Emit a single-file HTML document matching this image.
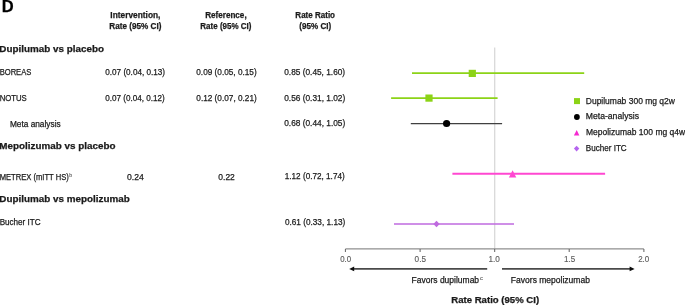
<!DOCTYPE html>
<html><head><meta charset="utf-8">
<style>
html,body{margin:0;padding:0;background:#fff;}
body{width:685px;height:305px;overflow:hidden;}
svg{display:block;}
text{font-family:"Liberation Sans",Arial,sans-serif;stroke-width:0.25px;}
</style></head>
<body>
<svg width="685" height="305" viewBox="0 0 685 305">
  <!-- reference line at 1.0 -->
  <line x1="494.7" y1="47.5" x2="494.7" y2="249" stroke="#d9d9d9" stroke-width="1.3"/>
  <!-- axis -->
  <line x1="345.4" y1="248.8" x2="643.9" y2="248.8" stroke="#8f8f8f" stroke-width="1.3"/>
  <g stroke="#606060" stroke-width="1">
    <line x1="345.4" y1="249" x2="345.4" y2="252"/>
    <line x1="420.1" y1="249" x2="420.1" y2="252"/>
    <line x1="494.7" y1="249" x2="494.7" y2="252"/>
    <line x1="569.2" y1="249" x2="569.2" y2="252"/>
    <line x1="643.9" y1="249" x2="643.9" y2="252"/>
  </g>
  <!-- BOREAS -->
  <line x1="412.0" y1="73.2" x2="584.2" y2="73.2" stroke="#8cd317" stroke-width="1.8"/>
  <rect x="468.7" y="69.8" width="7.2" height="7.2" fill="#8cd317"/>
  <!-- NOTUS -->
  <line x1="391.1" y1="98.1" x2="497.6" y2="98.1" stroke="#8cd317" stroke-width="1.8"/>
  <rect x="425.4" y="94.5" width="7.2" height="7.2" fill="#8cd317"/>
  <!-- Meta -->
  <line x1="410.8" y1="123.6" x2="502.1" y2="123.6" stroke="#404040" stroke-width="1.3"/>
  <circle cx="446.6" cy="123.5" r="3.6" fill="#000"/>
  <!-- METREX -->
  <line x1="452.4" y1="173.8" x2="605.1" y2="173.8" stroke="#ff47d1" stroke-width="1.9"/>
  <polygon points="512.6,170.2 516.3,177.5 508.9,177.5" fill="#ff47d1"/>
  <!-- Bucher -->
  <line x1="394.0" y1="224" x2="514.0" y2="224" stroke="#bf6adf" stroke-width="1.7"/>
  <polygon points="436.5,220.8 439.7,224 436.5,227.2 433.3,224" fill="#bf6adf"/>
  <!-- legend markers -->
  <rect x="574" y="98.1" width="6" height="6" fill="#8cd317"/>
  <circle cx="576.9" cy="117" r="2.9" fill="#000"/>
  <polygon points="576.7,130.1 579.4,135.6 573.9,135.6" fill="#f52ad0"/>
  <polygon points="576.6,145.8 579.3,148.6 576.6,151.4 573.9,148.6" fill="#b565ef"/>
  <!-- favors arrows -->
  <line x1="353" y1="268.9" x2="487.2" y2="268.9" stroke="#4a4a4a" stroke-width="1.9"/>
  <polygon points="349.2,268.9 354.2,266.6 354.2,271.2" fill="#0d0d0d"/>
  <line x1="502" y1="268.9" x2="630.5" y2="268.9" stroke="#4a4a4a" stroke-width="1.9"/>
  <polygon points="634.6,268.9 629.6,266.6 629.6,271.2" fill="#0d0d0d"/>

  <text x="1.68" y="12.00" style="font-size:17.00px;font-weight:bold;fill:#000;stroke:#000" textLength="11.92" lengthAdjust="spacingAndGlyphs">D</text>
  <text x="110.34" y="18.10" style="font-size:8.70px;font-weight:bold;fill:#1a1a1a;stroke:#1a1a1a" textLength="50.10" lengthAdjust="spacingAndGlyphs">Intervention,</text>
  <text x="109.34" y="28.90" style="font-size:8.70px;font-weight:bold;fill:#1a1a1a;stroke:#1a1a1a" textLength="52.04" lengthAdjust="spacingAndGlyphs">Rate (95% CI)</text>
  <text x="205.13" y="18.10" style="font-size:8.70px;font-weight:bold;fill:#1a1a1a;stroke:#1a1a1a" textLength="41.53" lengthAdjust="spacingAndGlyphs">Reference,</text>
  <text x="200.35" y="28.90" style="font-size:8.70px;font-weight:bold;fill:#1a1a1a;stroke:#1a1a1a" textLength="51.08" lengthAdjust="spacingAndGlyphs">Rate (95% CI)</text>
  <text x="295.37" y="18.10" style="font-size:8.70px;font-weight:bold;fill:#1a1a1a;stroke:#1a1a1a" textLength="39.66" lengthAdjust="spacingAndGlyphs">Rate Ratio</text>
  <text x="299.34" y="28.90" style="font-size:8.70px;font-weight:bold;fill:#1a1a1a;stroke:#1a1a1a" textLength="31.88" lengthAdjust="spacingAndGlyphs">(95% CI)</text>
  <text x="-0.65" y="51.60" style="font-size:9.20px;font-weight:bold;fill:#1a1a1a;stroke:#1a1a1a" textLength="104.57" lengthAdjust="spacingAndGlyphs">Dupilumab vs placebo</text>
  <text x="-0.65" y="148.90" style="font-size:9.20px;font-weight:bold;fill:#1a1a1a;stroke:#1a1a1a" textLength="116.10" lengthAdjust="spacingAndGlyphs">Mepolizumab vs placebo</text>
  <text x="-0.65" y="201.70" style="font-size:9.20px;font-weight:bold;fill:#1a1a1a;stroke:#1a1a1a" textLength="130.33" lengthAdjust="spacingAndGlyphs">Dupilumab vs mepolizumab</text>
  <text x="-0.36" y="74.80" style="font-size:9.00px;font-weight:normal;fill:#1a1a1a;stroke:#1a1a1a" textLength="31.70" lengthAdjust="spacingAndGlyphs">BOREAS</text>
  <text x="-0.36" y="100.60" style="font-size:9.00px;font-weight:normal;fill:#1a1a1a;stroke:#1a1a1a" textLength="27.16" lengthAdjust="spacingAndGlyphs">NOTUS</text>
  <text x="9.89" y="126.80" style="font-size:9.00px;font-weight:normal;fill:#1a1a1a;stroke:#1a1a1a" textLength="50.76" lengthAdjust="spacingAndGlyphs">Meta analysis</text>
  <text x="-0.33" y="179.70" style="font-size:9.00px;font-weight:normal;fill:#1a1a1a;stroke:#1a1a1a" textLength="69.07" lengthAdjust="spacingAndGlyphs">METREX (mITT HS)</text>
  <text x="69.20" y="177.20" style="font-size:5.30px;fill:#2a2a2a;stroke:none">b</text>
  <text x="-0.36" y="225.00" style="font-size:9.00px;font-weight:normal;fill:#1a1a1a;stroke:#1a1a1a" textLength="40.99" lengthAdjust="spacingAndGlyphs">Bucher ITC</text>
  <text x="105.25" y="74.80" style="font-size:9.20px;font-weight:normal;fill:#1a1a1a;stroke:#1a1a1a" textLength="59.81" lengthAdjust="spacingAndGlyphs">0.07 (0.04, 0.13)</text>
  <text x="105.31" y="100.60" style="font-size:9.20px;font-weight:normal;fill:#1a1a1a;stroke:#1a1a1a" textLength="59.38" lengthAdjust="spacingAndGlyphs">0.07 (0.04, 0.12)</text>
  <text x="126.96" y="179.50" style="font-size:9.20px;font-weight:normal;fill:#1a1a1a;stroke:#1a1a1a" textLength="16.78" lengthAdjust="spacingAndGlyphs">0.24</text>
  <text x="196.31" y="74.80" style="font-size:9.20px;font-weight:normal;fill:#1a1a1a;stroke:#1a1a1a" textLength="60.36" lengthAdjust="spacingAndGlyphs">0.09 (0.05, 0.15)</text>
  <text x="196.31" y="100.60" style="font-size:9.20px;font-weight:normal;fill:#1a1a1a;stroke:#1a1a1a" textLength="60.42" lengthAdjust="spacingAndGlyphs">0.12 (0.07, 0.21)</text>
  <text x="218.32" y="179.50" style="font-size:9.20px;font-weight:normal;fill:#1a1a1a;stroke:#1a1a1a" textLength="16.51" lengthAdjust="spacingAndGlyphs">0.22</text>
  <text x="284.25" y="74.80" style="font-size:9.20px;font-weight:normal;fill:#1a1a1a;stroke:#1a1a1a" textLength="60.87" lengthAdjust="spacingAndGlyphs">0.85 (0.45, 1.60)</text>
  <text x="284.24" y="100.60" style="font-size:9.20px;font-weight:normal;fill:#1a1a1a;stroke:#1a1a1a" textLength="61.01" lengthAdjust="spacingAndGlyphs">0.56 (0.31, 1.02)</text>
  <text x="284.24" y="126.40" style="font-size:9.20px;font-weight:normal;fill:#1a1a1a;stroke:#1a1a1a" textLength="61.01" lengthAdjust="spacingAndGlyphs">0.68 (0.44, 1.05)</text>
  <text x="284.77" y="179.40" style="font-size:9.20px;font-weight:normal;fill:#1a1a1a;stroke:#1a1a1a" textLength="59.92" lengthAdjust="spacingAndGlyphs">1.12 (0.72, 1.74)</text>
  <text x="284.90" y="224.80" style="font-size:9.20px;font-weight:normal;fill:#1a1a1a;stroke:#1a1a1a" textLength="60.38" lengthAdjust="spacingAndGlyphs">0.61 (0.33, 1.13)</text>
  <text x="340.24" y="262.00" style="font-size:8.60px;font-weight:normal;fill:#595959;stroke:#595959;stroke-width:0.12px" textLength="10.96" lengthAdjust="spacingAndGlyphs">0.0</text>
  <text x="414.59" y="262.00" style="font-size:8.60px;font-weight:normal;fill:#595959;stroke:#595959;stroke-width:0.12px" textLength="11.39" lengthAdjust="spacingAndGlyphs">0.5</text>
  <text x="488.54" y="262.00" style="font-size:8.60px;font-weight:normal;fill:#595959;stroke:#595959;stroke-width:0.12px" textLength="11.40" lengthAdjust="spacingAndGlyphs">1.0</text>
  <text x="563.91" y="262.00" style="font-size:8.60px;font-weight:normal;fill:#595959;stroke:#595959;stroke-width:0.12px" textLength="11.21" lengthAdjust="spacingAndGlyphs">1.5</text>
  <text x="638.17" y="262.00" style="font-size:8.60px;font-weight:normal;fill:#595959;stroke:#595959;stroke-width:0.12px" textLength="11.14" lengthAdjust="spacingAndGlyphs">2.0</text>
  <text x="585.79" y="103.60" style="font-size:9.00px;font-weight:normal;fill:#1a1a1a;stroke:#1a1a1a" textLength="89.15" lengthAdjust="spacingAndGlyphs">Dupilumab 300 mg q2w</text>
  <text x="585.76" y="119.40" style="font-size:9.00px;font-weight:normal;fill:#1a1a1a;stroke:#1a1a1a" textLength="53.25" lengthAdjust="spacingAndGlyphs">Meta-analysis</text>
  <text x="585.99" y="135.40" style="font-size:9.00px;font-weight:normal;fill:#1a1a1a;stroke:#1a1a1a" textLength="99.17" lengthAdjust="spacingAndGlyphs">Mepolizumab 100 mg q4w</text>
  <text x="585.86" y="151.00" style="font-size:9.00px;font-weight:normal;fill:#1a1a1a;stroke:#1a1a1a" textLength="40.83" lengthAdjust="spacingAndGlyphs">Bucher ITC</text>
  <text x="411.60" y="282.50" style="font-size:8.50px;font-weight:normal;fill:#1a1a1a;stroke:#1a1a1a" textLength="67.49" lengthAdjust="spacingAndGlyphs">Favors dupilumab</text>
  <text x="480.00" y="280.40" style="font-size:5.80px;fill:#2a2a2a;stroke:none">c</text>
  <text x="510.87" y="282.50" style="font-size:8.50px;font-weight:normal;fill:#1a1a1a;stroke:#1a1a1a" textLength="79.07" lengthAdjust="spacingAndGlyphs">Favors mepolizumab</text>
  <text x="451.31" y="303.00" style="font-size:9.20px;font-weight:bold;fill:#1a1a1a;stroke:#1a1a1a" textLength="87.79" lengthAdjust="spacingAndGlyphs">Rate Ratio (95% CI)</text>
</svg>
</body></html>
